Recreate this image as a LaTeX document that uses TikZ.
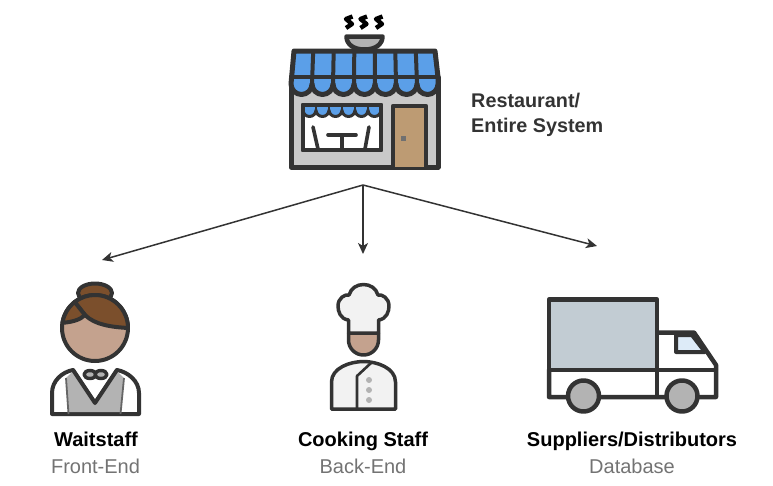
\documentclass[tikz,border=0pt]{standalone}
\usepackage{fontspec}
\setmainfont{Liberation Sans}
\usetikzlibrary{arrows.meta}
\definecolor{ink}{HTML}{333333}
\definecolor{awning}{HTML}{5B9FE8}
\definecolor{wall}{HTML}{C9C9C9}
\definecolor{doorwood}{HTML}{BD9B73}
\definecolor{steel}{HTML}{B3B3B3}
\definecolor{skin}{HTML}{C4A28E}
\definecolor{hair}{HTML}{7B4F2C}
\definecolor{coat}{HTML}{F2F2F2}
\definecolor{cargo}{HTML}{C2CCD3}
\definecolor{glass}{HTML}{DDEBF8}
\tikzset{
	outline/.style={draw=ink,line width=#1,line join=round,line cap=round},
	outline/.default=4,
	branch/.style={draw=ink,line width=1.5,-{Stealth[length=11pt,width=10pt,inset=3pt]}},
	title/.style={font=\bfseries\fontsize{20}{22}\selectfont,text=black,inner sep=0pt,anchor=base},
	subtitle/.style={font=\fontsize{20}{22}\selectfont,text=black!55,inner sep=0pt,anchor=base},
}
\begin{document}
\begin{tikzpicture}[x=1pt,y=1pt]
	\useasboundingbox (0,0) rectangle (773,-485);
	\draw [black,line width=4.4,line join=round] (352.5,-16.5) -- (346,-19) -- (352,-24) -- (346,-28);
	\draw [black,line width=4.4,line join=round] (367,-16.5) -- (360.5,-19) -- (366.5,-24) -- (360.5,-28);
	\draw [black,line width=4.4,line join=round] (382.5,-16.5) -- (376,-19) -- (382,-24) -- (376,-28);
	\draw [outline=4.5,fill=steel] (346.5,-36.5) -- (382.5,-36.5) .. controls (382.5,-44) and (376,-49.5) .. (364.5,-49.5) .. controls (353,-49.5) and (346.5,-44) .. cycle;
	\draw [outline=5,fill=wall] (291,-77) -- (291,-167) -- (438,-167) -- (438,-77) -- cycle;
	\draw [outline=5,fill=awning] (294,-51) -- (435,-51) -- (438,-77) -- (438,-84) arc (0:-180:10.5) arc (0:-180:10.5) arc (0:-180:10.5) arc (0:-180:10.5) arc (0:-180:10.5) arc (0:-180:10.5) arc (0:-180:10.5) -- cycle;
	\draw [outline=4] (291,-77) -- (438,-77);
	\draw [outline=4] (313.2,-51) -- (312,-84);
	\draw [outline=4] (333.7,-51) -- (333,-84);
	\draw [outline=4] (354.3,-51) -- (354,-84);
	\draw [outline=4] (374.8,-51) -- (375,-84);
	\draw [outline=4] (395.3,-51) -- (396,-84);
	\draw [outline=4] (415.8,-51) -- (417,-84);
	\draw [outline=4.5,fill=white] (303,-105) rectangle (381,-150);
	\draw [outline=3,fill=awning] (303,-105) -- (381,-105) -- (381,-110) arc (0:-180:6.5) arc (0:-180:6.5) arc (0:-180:6.5) arc (0:-180:6.5) arc (0:-180:6.5) arc (0:-180:6.5) -- cycle;
	\draw [outline=2.6] (316,-105) -- (316,-110);
	\draw [outline=2.6] (329,-105) -- (329,-110);
	\draw [outline=2.6] (342,-105) -- (342,-110);
	\draw [outline=2.6] (355,-105) -- (355,-110);
	\draw [outline=2.6] (368,-105) -- (368,-110);
	\draw [outline=4.5] (303,-105) rectangle (381,-150);
	\draw [outline=3.6] (313,-127) -- (318,-149);
	\draw [outline=3.6] (369,-127) -- (365,-149);
	\draw [outline=3.6] (328,-135) -- (356,-135);
	\draw [outline=3.6] (342,-135) -- (342,-149);
	\draw [outline=4.5,fill=doorwood] (393,-167) -- (393,-106) -- (426,-106) -- (426,-167);
	\fill [ink!70] (400.5,-135.5) rectangle (405.5,-140.5);
	\node [inner sep=0pt,anchor=west,font=\bfseries\fontsize{19.8}{25}\selectfont,text=ink,align=left] (system) at (471,-115) {Restaurant/\\Entire System};
	\coordinate (hub) at (363,-185);
	\coordinate (front) at (102,-260);
	\coordinate (back) at (363,-254);
	\coordinate (data) at (597,-246);
	\draw [branch] (hub) -- (front);
	\draw [branch] (hub) -- (back);
	\draw [branch] (hub) -- (data);
	\draw [outline=4,fill=hair] (95,-293) ellipse (17 and 9.5);
	\draw [outline=4,fill=skin] (95,-328) circle (33);
	\draw [outline=4,fill=hair] (128,-328) arc (0:128:33) -- (85,-315) .. controls (95,-325) and (112,-327) .. cycle;
	\draw [outline=4,fill=hair] (74.7,-302) arc (128:171:33) .. controls (72,-322) and (80,-320) .. (85,-315) -- cycle;
	\draw [outline=4,fill=white] (52,-414) -- (52,-393) .. controls (52,-381) and (62,-372) .. (73,-370) -- (95,-403) -- (117,-370) .. controls (128,-372) and (139,-381) .. (139,-393) -- (139,-414) -- cycle;
	\fill [steel] (66,-378) -- (73,-371) -- (95,-405) -- (117,-371) -- (124,-378) -- (120,-412) -- (69,-412) -- cycle;
	\draw [ink!75,line width=1.8] (66,-378) -- (68.5,-414);
	\draw [ink!75,line width=1.8] (124,-378) -- (120.5,-414);
	\draw [outline=4] (73,-370) -- (95,-403) -- (117,-370);
	\draw [outline=3.4,fill=steel] (90,-374.5) ellipse (6 and 4);
	\draw [outline=3.4,fill=steel] (101,-374.5) ellipse (6 and 4);
	\node [title] (waitstaff) at (96,-446.5) {Waitstaff};
	\node [subtitle] (frontend) at (95.5,-473) {Front-End};
	\draw [outline=3.5,fill=skin] (348.5,-333) -- (348.5,-340) arc (180:360:15) -- (378.5,-333) -- cycle;
	\draw [outline=3.5,fill=coat] (348.5,-333) -- (348.5,-320) .. controls (340,-319) and (338,-311) .. (338,-306) .. controls (338,-298) and (345,-294) .. (349,-295) .. controls (351,-288) and (357,-284.5) .. (363.5,-284.5) .. controls (370,-284.5) and (376,-288) .. (378,-295) .. controls (382,-294) and (389,-298) .. (389,-306) .. controls (389,-311) and (387,-319) .. (378.5,-320) -- (378.5,-333) -- cycle;
	\draw [outline=3.5,fill=coat] (331.5,-409) -- (331.5,-382) .. controls (331.5,-368) and (350,-361.5) .. (363.5,-361.5) .. controls (377,-361.5) and (395.5,-368) .. (395.5,-382) -- (395.5,-409) -- cycle;
	\draw [outline=2.6] (371,-363) -- (357,-376) -- (357,-409);
	\fill [steel] (369,-380) circle (3);
	\fill [steel] (369,-390) circle (3);
	\fill [steel] (369,-400) circle (3);
	\node [title] (cooking) at (363,-446.5) {Cooking Staff};
	\node [subtitle] (backend) at (363,-473) {Back-End};
	\draw [outline=4.5] (549,-370) -- (549,-397) -- (716,-397) -- (716,-365) -- (694,-332.5) -- (657,-332.5);
	\draw [outline=4.5,fill=cargo] (549,-299.5) rectangle (657,-370);
	\draw [outline=4] (549,-370) -- (716,-370);
	\draw [outline=4] (657,-370) -- (657,-397);
	\draw [outline=4,fill=glass] (676,-335) -- (692,-335) -- (705,-352) -- (676,-352) -- cycle;
	\draw [outline=4.5,fill=steel] (583.5,-396) circle (15.5);
	\draw [outline=4.5,fill=steel] (682,-396) circle (15.5);
	\node [title] (suppliers) at (632,-446.5) {Suppliers/Distributors};
	\node [subtitle] (database) at (632,-473) {Database};
\end{tikzpicture}
\end{document}
